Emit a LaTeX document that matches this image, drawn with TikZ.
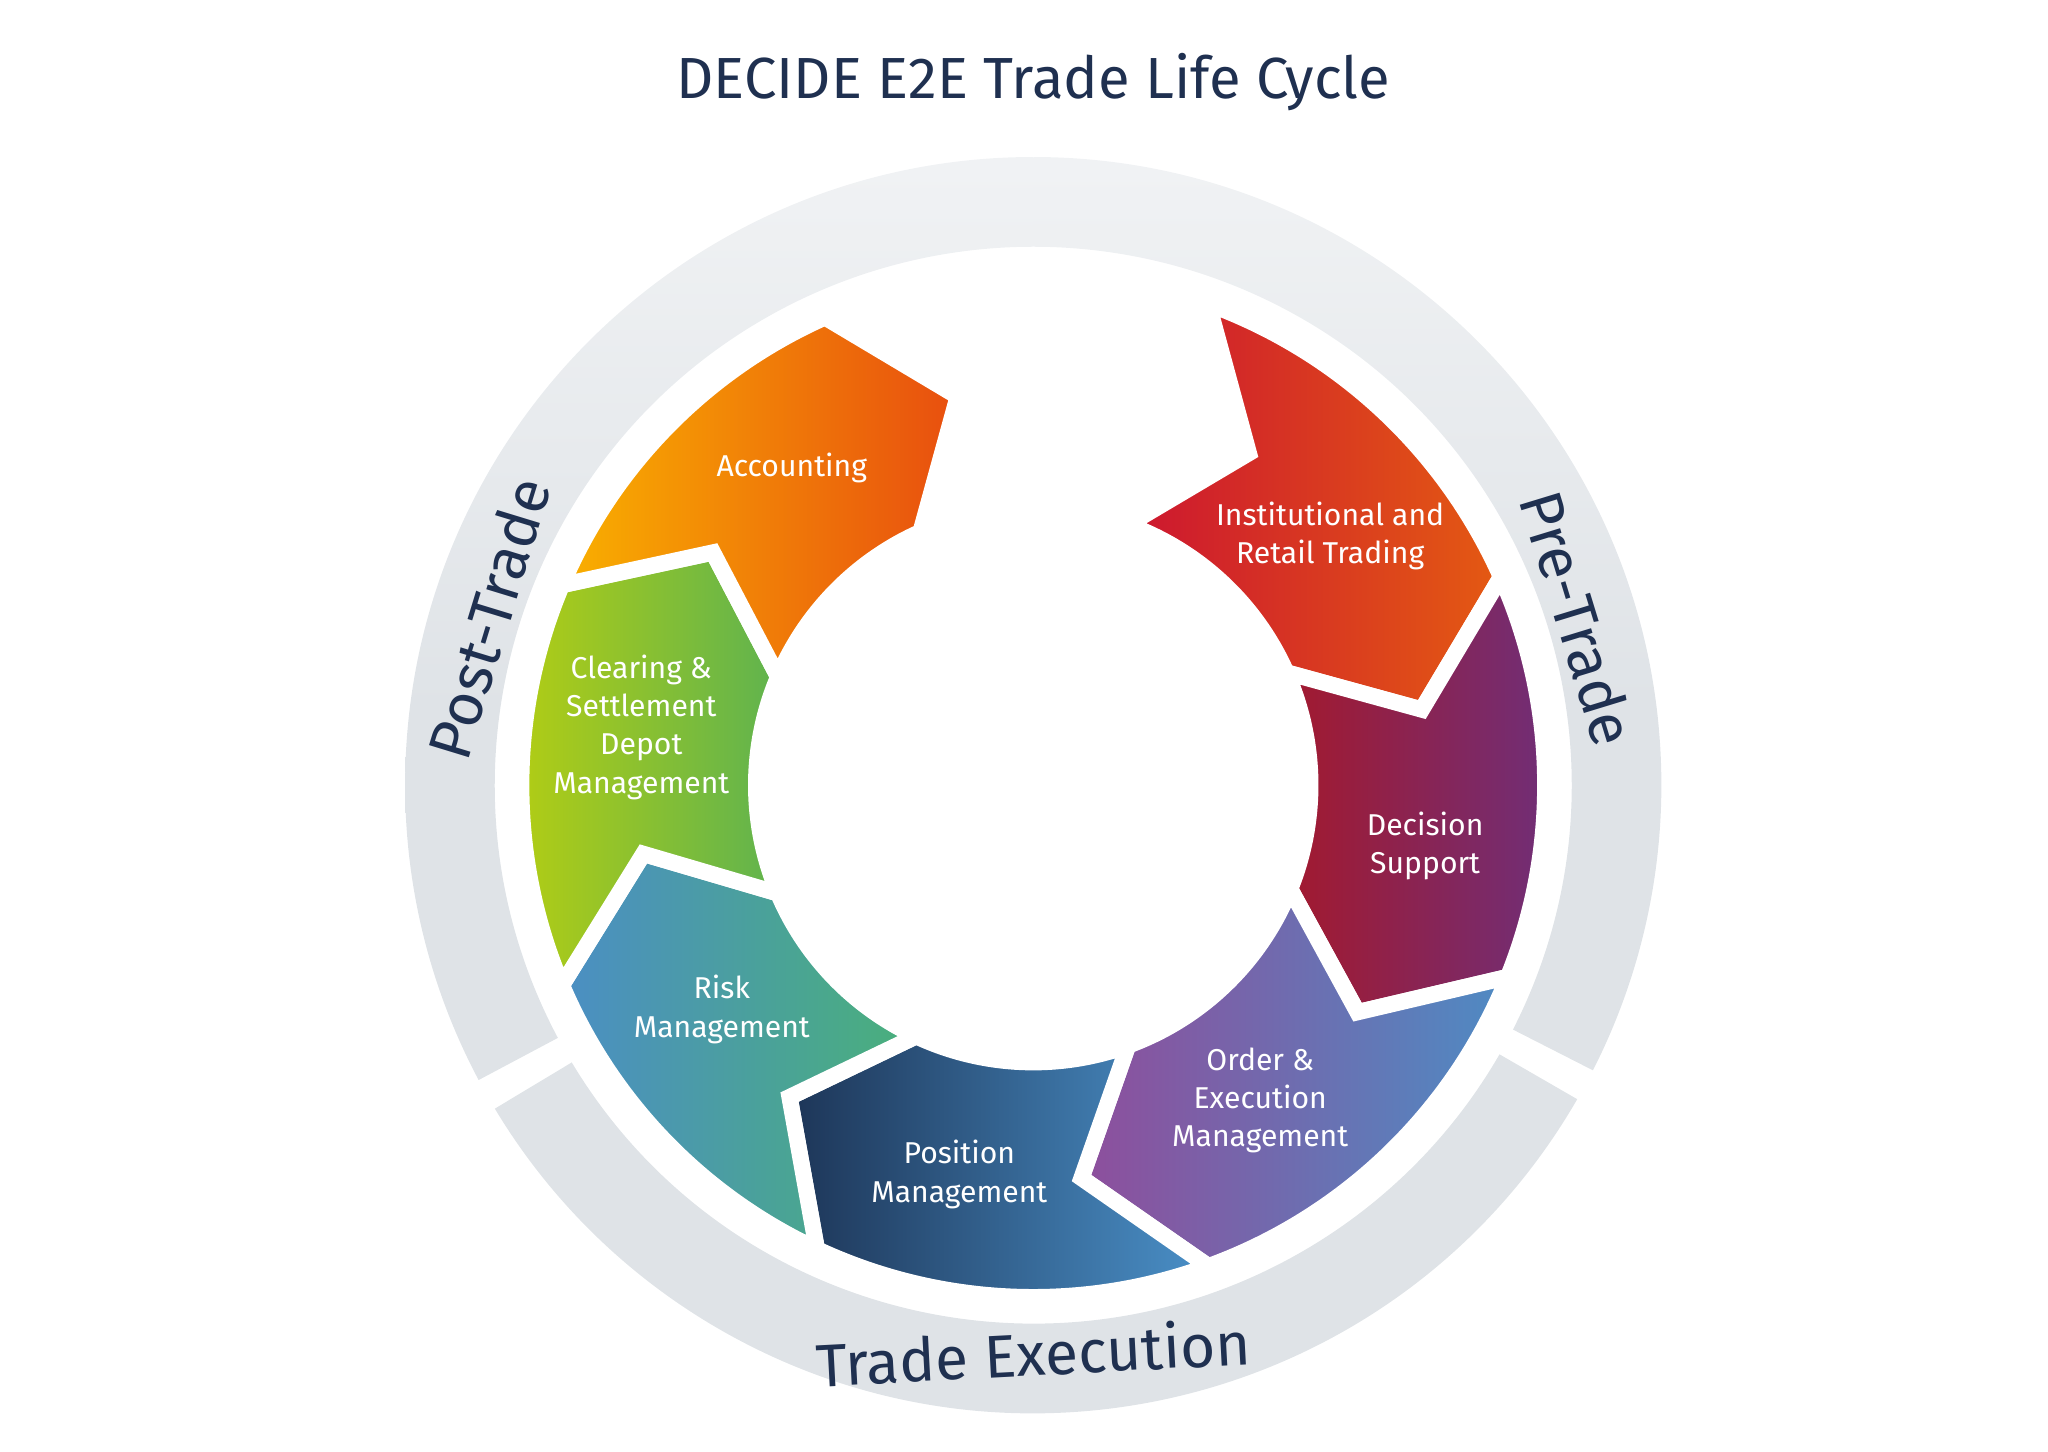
\documentclass[tikz,border=0pt]{standalone}
\usepackage{fontspec}
\setmainfont{Fira Sans}
\usetikzlibrary{positioning}

\definecolor{navy}{HTML}{1F3050}
\definecolor{ringgrey}{HTML}{DFE3E7}
\definecolor{instL}{HTML}{CC1630}\definecolor{instR}{HTML}{E45A12}
\definecolor{decL}{HTML}{A3192E}\definecolor{decR}{HTML}{6E2F7A}
\definecolor{ordL}{HTML}{8E4E9C}\definecolor{ordR}{HTML}{4E8BC3}
\definecolor{posL}{HTML}{1D3557}\definecolor{posR}{HTML}{4A90C8}
\definecolor{riskL}{HTML}{4B8EC4}\definecolor{riskR}{HTML}{4AB07A}
\definecolor{clrL}{HTML}{B5CE12}\definecolor{clrR}{HTML}{5FB34F}
\definecolor{accL}{HTML}{F9B000}\definecolor{accR}{HTML}{E84E0F}
\pgfdeclareverticalshading{ringfade}{100bp}{color(0bp)=(ringgrey); color(45bp)=(ringgrey); color(100bp)=(white)}

% one chevron segment of the cycle: tail angle, head angle, left colour, right colour
\newcommand{\cycleseg}[4]{%
  \path[seg, left color=#3, right color=#4]
    (#1:388) arc[start angle=#1, end angle=#2, radius=388]
    -- (#2-13:300) -- (#2:210)
    arc[start angle=#2, end angle=#1, radius=210]
    -- (#1-13:300) -- cycle;}

\begin{document}
\begin{tikzpicture}[x=0.2mm,y=0.2mm,
    seg/.style={draw=white,line width=7pt,line join=miter},
    lbl/.style={text=white,align=center,font=\fontsize{13}{16.5}\selectfont},
    phase/.style={text=navy,font=\fontsize{26}{30}\selectfont}]
  \useasboundingbox (0,0) rectangle (1552,1100);
  \node[text=navy,font=\fontsize{25}{30}\selectfont] (title) at (783,1038) {DECIDE E2E Trade Life Cycle};

  \begin{scope}[shift={(783,505)}]
    % grey ring
    \path[shading=ringfade] (90:476) arc[start angle=90,end angle=-27,radius=476]
      -- (-27:408) arc[start angle=-27,end angle=90,radius=408] -- cycle;
    \path[shading=ringfade] (90:476) arc[start angle=90,end angle=208,radius=476]
      -- (208:408) arc[start angle=208,end angle=90,radius=408] -- cycle;
    \fill[ringgrey] (-30:476) arc[start angle=-30,end angle=-149,radius=476]
      -- (-149:408) arc[start angle=-149,end angle=-30,radius=408] -- cycle;

    % arrows
    \cycleseg{70}{24}{instL}{instR}
    \cycleseg{24}{-22}{decL}{decR}
    \cycleseg{-22}{-70}{ordL}{ordR}
    \cycleseg{-70}{-115}{posL}{posR}
    \cycleseg{-115}{-157}{riskL}{riskR}
    \cycleseg{203}{157}{clrL}{clrR}
    \cycleseg{157}{114}{accL}{accR}

    \node[phase,rotate=-73] (pre) at (17:432) {Pre-Trade};
    \node[phase,rotate=73] (post) at (163:432) {Post-Trade};
    \node[phase,rotate=3] (exec) at (-90:430) {Trade Execution};
  \end{scope}

  \node[lbl] (acc) at (600,745) {Accounting};
  \node[lbl] (inst) at (1008,694) {Institutional and\\Retail Trading};
  \node[lbl] (dec) at (1080,459) {Decision\\Support};
  \node[lbl] (ord) at (955,266) {Order \&\\Execution\\Management};
  \node[lbl] (pos) at (727,210) {Position\\Management};
  \node[lbl] (risk) at (547,335) {Risk\\Management};
  \node[lbl] (clear) at (486,549) {Clearing \&\\Settlement\\Depot\\Management};
\end{tikzpicture}
\end{document}
